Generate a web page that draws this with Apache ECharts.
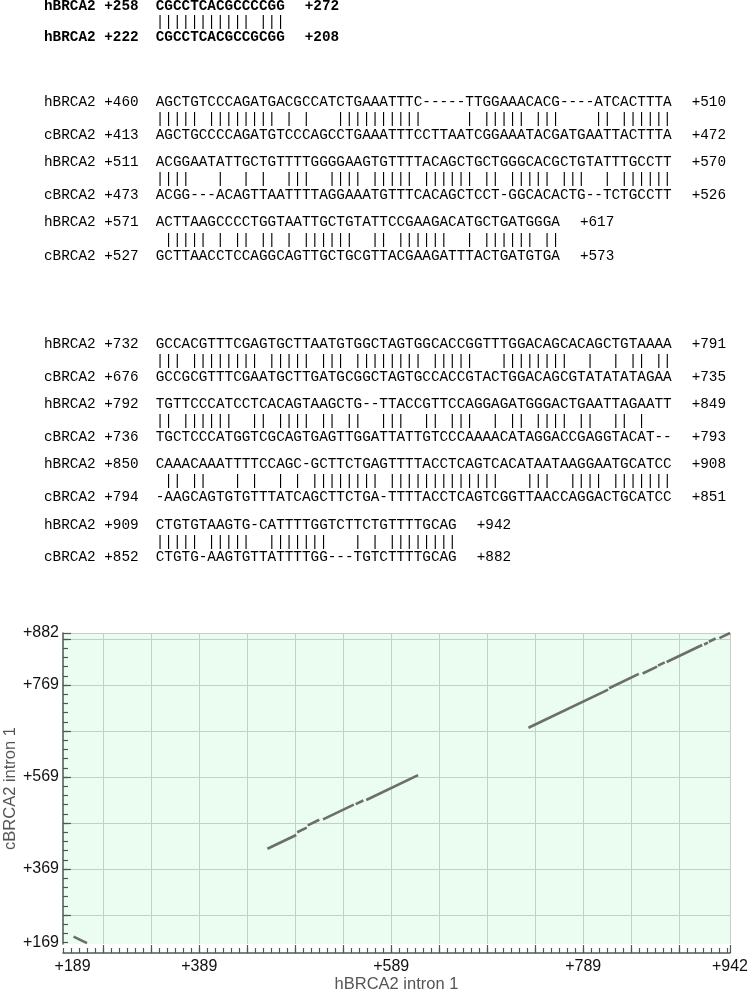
<!DOCTYPE html>
<html><head><meta charset="utf-8">
<script src="https://cdn.jsdelivr.net/npm/echarts@6/dist/echarts.min.js"></script>
<style>html,body{margin:0;padding:0;background:#fff}#c{width:750px;height:992px}</style>
</head><body><div id="c"></div>
<script>
// ---- data: alignment rows [name, start, aligned sequence, end] ----
const alignTop = [
  ['hBRCA2', 258, 'CGCCTCACGCCCCGG', 272],
  ['hBRCA2', 222, 'CGCCTCACGCCGCGG', 208]
];
const alignMid = [
  ['hBRCA2', 460, 'AGCTGTCCCAGATGACGCCATCTGAAATTTC-----TTGGAAACACG----ATCACTTTA', 510],
  ['cBRCA2', 413, 'AGCTGCCCCAGATGTCCCAGCCTGAAATTTCCTTAATCGGAAATACGATGAATTACTTTA', 472],
  ['hBRCA2', 511, 'ACGGAATATTGCTGTTTTGGGGAAGTGTTTTACAGCTGCTGGGCACGCTGTATTTGCCTT', 570],
  ['cBRCA2', 473, 'ACGG---ACAGTTAATTTTAGGAAATGTTTCACAGCTCCT-GGCACACTG--TCTGCCTT', 526],
  ['hBRCA2', 571, 'ACTTAAGCCCCTGGTAATTGCTGTATTCCGAAGACATGCTGATGGGA', 617],
  ['cBRCA2', 527, 'GCTTAACCTCCAGGCAGTTGCTGCGTTACGAAGATTTACTGATGTGA', 573]
];
const alignBottom = [
  ['hBRCA2', 732, 'GCCACGTTTCGAGTGCTTAATGTGGCTAGTGGCACCGGTTTGGACAGCACAGCTGTAAAA', 791],
  ['cBRCA2', 676, 'GCCGCGTTTCGAATGCTTGATGCGGCTAGTGCCACCGTACTGGACAGCGTATATATAGAA', 735],
  ['hBRCA2', 792, 'TGTTCCCATCCTCACAGTAAGCTG--TTACCGTTCCAGGAGATGGGACTGAATTAGAATT', 849],
  ['cBRCA2', 736, 'TGCTCCCATGGTCGCAGTGAGTTGGATTATTGTCCCAAAACATAGGACCGAGGTACAT--', 793],
  ['hBRCA2', 850, 'CAAACAAATTTTCCAGC-GCTTCTGAGTTTTACCTCAGTCACATAATAAGGAATGCATCC', 908],
  ['cBRCA2', 794, '-AAGCAGTGTGTTTATCAGCTTCTGA-TTTTACCTCAGTCGGTTAACCAGGACTGCATCC', 851],
  ['hBRCA2', 909, 'CTGTGTAAGTG-CATTTTGGTCTTCTGTTTTGCAG', 942],
  ['cBRCA2', 852, 'CTGTG-AAGTGTTATTTTGG---TGTCTTTTGCAG', 882]
];
const xTickLabels = ['+189', '+389', '+589', '+789', '+942'];
const xLabelValues = [257, 389, 589, 789, 942];
const yTickLabels = ['+169', '+369', '+569', '+769', '+882'];
const yLabelValues = [208, 369, 569, 769, 882];
const xAxisName = 'hBRCA2 intron 1';
const yAxisName = 'cBRCA2 intron 1';
const xRange = [247, 942];
const yRange = [206, 882];

// ---- layout ----
const rowY = {
  top: [[6, 37]],
  mid: [[102, 135], [162, 195], [222, 256]],
  bottom: [[344, 377], [404, 437], [464, 497], [525, 557]]
};
const FONT = '"Liberation Mono", "DejaVu Sans Mono", monospace';
const FS = 14.33;
const PITCH = FS * 0.6;
const LABEL_X = 44;
const SEQ_X = LABEL_X + 13 * PITCH;

function pairs(rows) {
  const out = [];
  for (let i = 0; i < rows.length; i += 2) out.push([rows[i], rows[i + 1]]);
  return out;
}
function matchLine(a, b) {
  let s = '';
  for (let i = 0; i < a.length; i++) s += (a[i] !== '-' && a[i] === b[i]) ? '|' : ' ';
  return s.replace(/\s+$/, '');
}
const graphics = [];
function txt(x, y, s, bold) {
  graphics.push({ type: 'text', x: x, y: y, silent: true,
    style: { text: s, fontFamily: FONT, fontSize: FS, fontWeight: bold ? 'bold' : 'normal',
      fill: '#000', align: 'left', verticalAlign: 'middle' } });
}
function drawBlock(rows, ys, bold) {
  pairs(rows).forEach(function (p, k) {
    const yh = ys[k][0], yc = ys[k][1];
    [[p[0], yh], [p[1], yc]].forEach(function (r) {
      const row = r[0], y = r[1];
      txt(LABEL_X, y, row[0] + ' +' + row[1], bold);
      txt(SEQ_X, y, row[2], bold);
      txt(SEQ_X + row[2].length * PITCH + 20, y, '+' + row[3], bold);
    });
    txt(SEQ_X, (yh + yc) / 2 + 1, matchLine(p[0][2], p[1][2]), false);
  });
}
drawBlock(alignTop, rowY.top, true);
drawBlock(alignMid, rowY.mid, false);
drawBlock(alignBottom, rowY.bottom, false);

// ---- dot-plot segments from ungapped alignment blocks ----
function segmentsFrom(rows) {
  const segs = [];
  let cur = null, prevH = null, prevC = null;
  pairs(rows).forEach(function (p) {
    const hr = p[0], cr = p[1];
    const hDir = hr[3] >= hr[1] ? 1 : -1, cDir = cr[3] >= cr[1] ? 1 : -1;
    let h = hr[1], c = cr[1];
    for (let i = 0; i < hr[2].length; i++) {
      const a = hr[2][i], b = cr[2][i];
      if (a !== '-' && b !== '-') {
        if (cur && prevH + hDir === h && prevC + cDir === c) { cur[1] = h; cur[3] = c; }
        else { cur = [h, h, c, c]; segs.push(cur); }
        prevH = h; prevC = c;
      } else { cur = null; }
      if (a !== '-') h += hDir;
      if (b !== '-') c += cDir;
    }
  });
  return segs;
}
const segs = [].concat(segmentsFrom(alignTop), segmentsFrom(alignMid), segmentsFrom(alignBottom));

// ---- axis tick positions ----
const xGridValues = [];
for (let v = 289; v <= 889; v += 50) xGridValues.push(v);
xGridValues.push(942);
const xMinorValues = [];
for (let k = -17; 389 + k * 50 / 6 <= 942; k++) xMinorValues.push(389 + k * 50 / 6);
const yGridValues = [];
for (let v = 269; v <= 869; v += 100) yGridValues.push(v);
yGridValues.push(882);
const yMinorValues = [];
for (let v = 209; v <= 882; v += 20) yMinorValues.push(v);

const AX = '#4d5950';
const SANS = '"Liberation Sans", Arial, sans-serif';
const labelFmt = function (vals, labs) {
  return function (v) { const i = vals.indexOf(Math.round(v)); return i >= 0 ? labs[i] : ''; };
};
const chart = echarts.init(document.getElementById('c'), null, { renderer: 'canvas' });
chart.setOption({
  animation: false,
  grid: { left: 63, right: 20, top: 633, bottom: 48, show: true, backgroundColor: '#ebfcf0',
    borderWidth: 0, containLabel: false, outerBoundsMode: 'none' },
  xAxis: [{
    type: 'value', min: xRange[0], max: xRange[1], position: 'bottom', offset: 9,
    axisLine: { show: true, onZero: false, lineStyle: { color: AX, width: 1.5 } },
    axisTick: { show: true, inside: true, length: 8, customValues: xGridValues, lineStyle: { color: AX, width: 1.2 } },
    axisLabel: { show: true, customValues: xLabelValues, formatter: labelFmt(xLabelValues, xTickLabels),
      color: '#111', fontSize: 16, fontFamily: SANS, margin: 6,
      showMinLabel: true, showMaxLabel: true },
    splitLine: { show: true, lineStyle: { color: '#cbcbcb', width: 1 } },
    name: xAxisName, nameLocation: 'middle', nameGap: 23, nameMoveOverlap: false,
    nameTextStyle: { color: '#555', fontSize: 16.5, fontFamily: SANS }
  }, {
    type: 'value', min: xRange[0], max: xRange[1], position: 'bottom', offset: 9,
    axisLine: { show: false, onZero: false },
    axisTick: { show: true, inside: true, length: 5, customValues: xMinorValues, lineStyle: { color: AX, width: 1.2 } },
    axisLabel: { show: false }, splitLine: { show: false }
  }],
  yAxis: [{
    type: 'value', min: yRange[0], max: yRange[1], position: 'left',
    axisLine: { show: true, onZero: false, lineStyle: { color: AX, width: 1.5 } },
    axisTick: { show: true, inside: true, length: 8, customValues: yGridValues, lineStyle: { color: AX, width: 1.2 } },
    axisLabel: { show: true, customValues: yLabelValues, formatter: labelFmt(yLabelValues, yTickLabels),
      color: '#111', fontSize: 16, fontFamily: SANS, margin: 4,
      showMinLabel: true, showMaxLabel: true },
    splitLine: { show: true, lineStyle: { color: '#cbcbcb', width: 1 } },
    name: yAxisName, nameLocation: 'middle', nameGap: 44, nameMoveOverlap: false,
    nameTextStyle: { color: '#555', fontSize: 16.5, fontFamily: SANS }
  }, {
    type: 'value', min: yRange[0], max: yRange[1], position: 'left',
    axisLine: { show: false, onZero: false },
    axisTick: { show: true, inside: true, length: 5, customValues: yMinorValues, lineStyle: { color: AX, width: 1.2 } },
    axisLabel: { show: false }, splitLine: { show: false }
  }],
  series: [{
    type: 'lines', coordinateSystem: 'cartesian2d', xAxisIndex: 0, yAxisIndex: 0, silent: true, z: 5,
    lineStyle: { color: '#6b6e6b', width: 2.6, opacity: 1, curveness: 0, cap: 'butt' },
    data: segs.map(function (s) { return { coords: [[s[0], s[2]], [s[1], s[3]]] }; })
  }],
  graphic: graphics
});
</script></body></html>
